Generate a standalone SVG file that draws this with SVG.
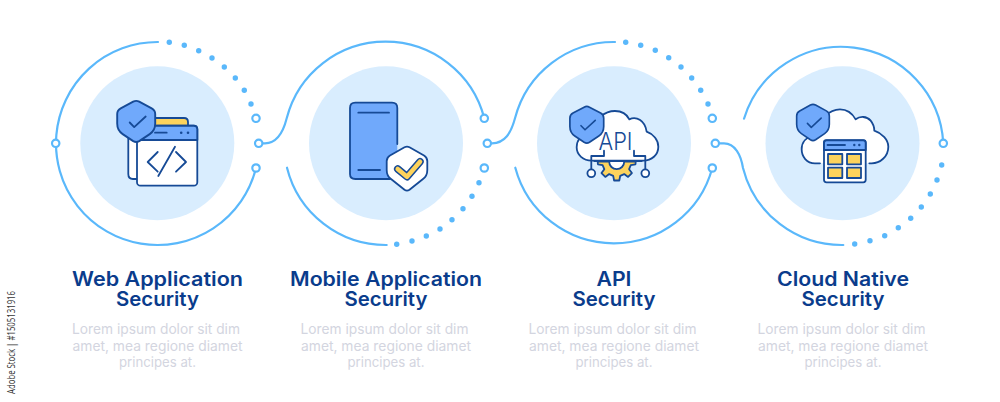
<svg xmlns="http://www.w3.org/2000/svg" xmlns:xlink="http://www.w3.org/1999/xlink" width="1000" height="402" viewBox="0 0 1000 402">
<style>
.ring{fill:none;stroke:#5ab8fb;stroke-width:2.2;stroke-linecap:round}
.dot{fill:#5ab8fb}
.node{fill:#fff;stroke:#5ab8fb;stroke-width:2.2}
.disc{fill:#d9edfe}
.ln{fill:none;stroke:#164a96;stroke-width:1.8;stroke-linecap:round;stroke-linejoin:round}
.w{fill:#fff;stroke:#164a96;stroke-width:1.8;stroke-linejoin:round}
.b{fill:#70a9fb;stroke:#164a96;stroke-width:1.9;stroke-linejoin:round}
.y{fill:#fdd35c;stroke:#164a96;stroke-width:1.8;stroke-linejoin:round}
.t{font-family:Inter,"Liberation Sans",sans-serif;font-weight:600;font-size:19.5px;fill:#0a3c8c;text-anchor:middle}
.p{font-family:Inter,"Liberation Sans",sans-serif;font-size:14px;fill:#d3d5e0;text-anchor:middle}
</style>
<defs>
<g id="shield">
<path class="b" d="M-3,-19.8 Q0,-21.4 3,-19.8 L15.5,-13.2 Q19,-11.4 19,-7.5 V2 Q19,9 13.5,12.6 L3,19.6 Q0,21.4 -3,19.6 L-13.5,12.6 Q-19,9 -19,2 V-7.5 Q-19,-11.4 -15.5,-13.2 Z"/>
<path class="ln" d="M-6.5,1 L-2,5.6 L9.5,-5"/>
</g>
</defs>
<rect width="1000" height="402" fill="#fff"/>
<g id="connectors">
<path class="ring" d="M158,42 A101.5,101.5 0 1 0 256,168"/>
<path class="ring" d="M258.7,143.3 H265 C277,143.3 283,133 286.7,118.3 A102,102 0 0 1 484.3,118.3"/>
<path class="ring" d="M287,167.7 A102,102 0 0 0 386.7,245"/>
<path class="ring" d="M487.3,143.3 H492 C505,143.3 511,133 515,118.3 A102,102 0 0 1 615,42"/>
<path class="ring" d="M515.3,167.7 A102,102 0 0 0 712.3,168"/>
<path class="ring" d="M744,118.7 A102,102 0 0 1 943.3,143.3"/>
<path class="ring" d="M715.3,143.3 H724 C735,143.3 741,155 743,168 A102,102 0 0 0 843.3,245"/>
<g class="dot">
<circle cx="169.3" cy="42.3" r="2.7"/><circle cx="184.3" cy="45.3" r="2.7"/><circle cx="198.7" cy="50.7" r="2.7"/><circle cx="212" cy="58" r="2.7"/><circle cx="224.3" cy="67" r="2.7"/><circle cx="235.3" cy="78" r="2.7"/><circle cx="244.3" cy="90.3" r="2.7"/><circle cx="251" cy="104" r="2.7"/>
<circle cx="396.7" cy="244.3" r="2.7"/><circle cx="412" cy="241" r="2.7"/><circle cx="426.3" cy="236" r="2.7"/><circle cx="440" cy="229" r="2.7"/><circle cx="452" cy="219.7" r="2.7"/><circle cx="463" cy="208.7" r="2.7"/><circle cx="472" cy="196.3" r="2.7"/><circle cx="479" cy="182.7" r="2.7"/>
<circle cx="625.7" cy="42.3" r="2.7"/><circle cx="640.7" cy="45.3" r="2.7"/><circle cx="655.3" cy="50.3" r="2.7"/><circle cx="668.7" cy="57.7" r="2.7"/><circle cx="681" cy="67" r="2.7"/><circle cx="691.7" cy="78" r="2.7"/><circle cx="700.7" cy="90.3" r="2.7"/><circle cx="708" cy="104" r="2.7"/>
<circle cx="941.7" cy="165" r="2.7"/><circle cx="937" cy="180" r="2.7"/><circle cx="930.3" cy="194" r="2.7"/><circle cx="921.3" cy="207" r="2.7"/><circle cx="910.7" cy="218.3" r="2.7"/><circle cx="898.3" cy="227.7" r="2.7"/><circle cx="884.7" cy="235.7" r="2.7"/><circle cx="870" cy="240.7" r="2.7"/><circle cx="854.7" cy="244" r="2.7"/>
</g>
<g class="node">
<circle cx="55.7" cy="143.3" r="3.7"/><circle cx="256" cy="118.3" r="3.7"/><circle cx="258.7" cy="143.3" r="3.7"/><circle cx="256" cy="168" r="3.7"/>
<circle cx="484.3" cy="118.3" r="3.7"/><circle cx="487.3" cy="143.3" r="3.7"/><circle cx="484.3" cy="168" r="3.7"/>
<circle cx="712.3" cy="118.3" r="3.7"/><circle cx="715.3" cy="143.3" r="3.7"/><circle cx="712.3" cy="168" r="3.7"/>
<circle cx="943.3" cy="143.3" r="3.7"/>
</g>
</g>
<g id="node-web">
<circle class="disc" cx="157.3" cy="143.3" r="77"/>
<path class="y" d="M150,118 H184 Q188,118 188,122 V128 H150 Z"/>
<path class="w" d="M128.3,130 V174 Q128.3,179 133,179 H145 V130 Z"/>
<rect class="w" x="137" y="125.7" width="60.3" height="60" rx="3.5"/>
<path class="b" d="M137,140 V129 Q137,125.7 140.5,125.7 H193.8 Q197.3,125.7 197.3,129 V140 Z"/>
<path class="ln" d="M155,132.7 H166.7"/>
<circle cx="181.2" cy="132.7" r="1.3" fill="#164a96"/><circle cx="188" cy="132.7" r="1.3" fill="#164a96"/>
<path class="ln" d="M157.7,152 L147.7,162 L157.7,171.7 M176,152 L186,162 L176,171.7 M175,146.7 L158.3,176"/>
<use xlink:href="#shield" href="#shield" transform="translate(136.2 121.5)"/>
<text class="t" x="157.5" y="285.5" textLength="171" lengthAdjust="spacingAndGlyphs">Web Application</text>
<text class="t" x="157.5" y="306" textLength="83" lengthAdjust="spacingAndGlyphs">Security</text>
<text class="p" x="156" y="334" textLength="168" lengthAdjust="spacingAndGlyphs">Lorem ipsum dolor sit dim</text>
<text class="p" x="157.5" y="351" textLength="170" lengthAdjust="spacingAndGlyphs">amet, mea regione diamet</text>
<text class="p" x="157.5" y="367" textLength="77" lengthAdjust="spacingAndGlyphs">principes at.</text>
</g>
<g id="node-mobile">
<circle class="disc" cx="386" cy="143.3" r="77"/>
<path class="b" d="M397.3,144 V108 Q397.3,102.7 392,102.7 H355.3 Q350,102.7 350,108 V174 Q350,179 355.3,179 H397.3 Z" stroke="none" style="stroke:none"/>
<path class="ln" d="M397.3,144 V108 Q397.3,102.7 392,102.7 H355.3 Q350,102.7 350,108 V174 Q350,179 355.3,179 H390"/>
<path class="ln" d="M358.3,112.7 H389 M358.3,170 H380"/>
<path class="w" d="M404.5,147.2 Q407,146 409.5,147.2 L424,155.5 Q427.3,157.5 427.3,161 V170 Q427.3,176 423,179 L409.5,189.8 Q407,191.5 404.5,189.8 L391,179 Q386.7,176 386.7,170 V161 Q386.7,157.5 390,155.5 Z"/>
<path d="M397.7,169 L407,176.7 L420,161.7" fill="none" stroke="#164a96" stroke-width="7.5" stroke-linecap="round" stroke-linejoin="round"/>
<path d="M397.7,169 L407,176.7 L420,161.7" fill="none" stroke="#fdd35c" stroke-width="4.5" stroke-linecap="round" stroke-linejoin="round"/>
<text class="t" x="386" y="285.5" textLength="192" lengthAdjust="spacingAndGlyphs">Mobile Application</text>
<text class="t" x="386" y="306" textLength="83" lengthAdjust="spacingAndGlyphs">Security</text>
<text class="p" x="384.5" y="334" textLength="168" lengthAdjust="spacingAndGlyphs">Lorem ipsum dolor sit dim</text>
<text class="p" x="386" y="351" textLength="170" lengthAdjust="spacingAndGlyphs">amet, mea regione diamet</text>
<text class="p" x="386" y="367" textLength="77" lengthAdjust="spacingAndGlyphs">principes at.</text>
</g>
<g id="node-api">
<circle class="disc" cx="614" cy="143.3" r="77"/>
<path class="w" transform="translate(500 30) scale(.3333)" style="stroke-width:5.4" d="M275,392 C250,392 230,375 230,352 C230,330 245,315 265,310 C285,265 315,243 345,243 C365,243 380,252 388,268 C410,258 435,272 440,305 C460,312 475,330 475,350 C475,375 455,392 430,392 Z"/>
<path fill="#fff" d="M609.2,161.7 A7.5,7.5 0 0 0 624.2,161.7 Z"/>
<path class="y" transform="translate(616.7 161.7)" d="M19,0 L18.8,2.6 L14.1,3.5 L12.4,7.5 L15.2,11.4 L11.4,15.2 L7.5,12.4 L3.5,14.1 L2.6,18.8 L-2.6,18.8 L-3.5,14.1 L-7.5,12.4 L-11.4,15.2 L-15.2,11.4 L-12.4,7.5 L-14.1,3.5 L-18.8,2.6 L-19,0 L-7.5,0 A7.5,7.5 0 0 0 7.5,0 Z"/>
<path class="ln" d="M594.3,161 H641.7"/>
<path class="ln" d="M591.3,169.3 V156 H604 V150.7 M645.3,169.3 V156 H634 V150.7"/>
<circle class="w" cx="591.3" cy="173.3" r="3.9"/><circle class="w" cx="645.3" cy="173.3" r="3.9"/>
<use xlink:href="#shield" href="#shield" transform="translate(586.8 124.8) scale(.89)"/>
<text x="615.5" y="149.5" text-anchor="middle" font-family="Inter,'Liberation Sans',sans-serif" font-weight="300" font-size="24" fill="#164a96" textLength="34" lengthAdjust="spacingAndGlyphs">API</text>
<text class="t" x="614" y="285.5" textLength="35" lengthAdjust="spacingAndGlyphs">API</text>
<text class="t" x="614" y="306" textLength="83" lengthAdjust="spacingAndGlyphs">Security</text>
<text class="p" x="612.5" y="334" textLength="168" lengthAdjust="spacingAndGlyphs">Lorem ipsum dolor sit dim</text>
<text class="p" x="614" y="351" textLength="170" lengthAdjust="spacingAndGlyphs">amet, mea regione diamet</text>
<text class="p" x="614" y="367" textLength="77" lengthAdjust="spacingAndGlyphs">principes at.</text>
</g>
<g id="node-cloud">
<circle class="disc" cx="842.5" cy="143.3" r="77"/>
<path fill="#fff" transform="translate(725 30) scale(.3333)" d="M285,400 H270 C245,400 230,380 230,358 C230,335 245,322 262,318 C285,265 315,238 345,238 C365,238 382,250 392,268 C405,258 425,258 437,272 C445,282 448,292 448,302 C472,310 490,330 490,350 C490,380 465,400 440,400 Z"/>
<path class="ln" style="stroke-width:5.4" transform="translate(725 30) scale(.3333)" d="M285,400 H270 C245,400 230,380 230,358 C230,335 245,322 262,318 C285,265 315,238 345,238 C365,238 382,250 392,268 C405,258 425,258 437,272 C445,282 448,292 448,302 C472,310 490,330 490,350 C490,380 465,400 440,400 H433"/>
<rect class="w" x="824" y="140.3" width="41.7" height="42" rx="2.5"/>
<path class="b" d="M824,150 V142.8 Q824,140.3 826.5,140.3 H863.2 Q865.7,140.3 865.7,142.8 V150 Z"/>
<path class="ln" d="M827.5,145 H845"/>
<circle cx="854.3" cy="145" r="1.2" fill="#164a96"/><circle cx="859.3" cy="145" r="1.2" fill="#164a96"/>
<rect class="y" x="828" y="154" width="14.3" height="10.3"/><rect class="y" x="847" y="154" width="14" height="10.3"/>
<rect class="y" x="828" y="167.7" width="14.3" height="10.3"/><rect class="y" x="847" y="167.7" width="14" height="10.3"/>
<use xlink:href="#shield" href="#shield" transform="translate(813 122.5) scale(.86 .88)"/>
<text class="t" x="843" y="285.5" textLength="132" lengthAdjust="spacingAndGlyphs">Cloud Native</text>
<text class="t" x="843" y="306" textLength="83" lengthAdjust="spacingAndGlyphs">Security</text>
<text class="p" x="841.5" y="334" textLength="168" lengthAdjust="spacingAndGlyphs">Lorem ipsum dolor sit dim</text>
<text class="p" x="843" y="351" textLength="170" lengthAdjust="spacingAndGlyphs">amet, mea regione diamet</text>
<text class="p" x="843" y="367" textLength="77" lengthAdjust="spacingAndGlyphs">principes at.</text>
</g>
<text transform="translate(15 394) rotate(-90)" font-family="'Open Sans','Liberation Sans',sans-serif" font-size="10.5" fill="#333" textLength="103" lengthAdjust="spacingAndGlyphs">Adobe Stock | #1505131916</text>
</svg>
